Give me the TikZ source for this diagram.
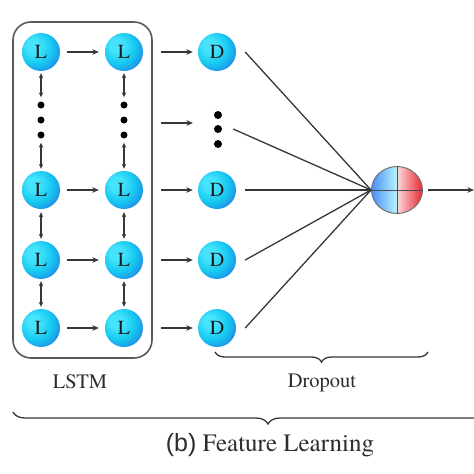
\documentclass[tikz,border=0pt]{standalone}
\usepackage{fontspec}
\setmainfont{texgyretermes-regular.otf}[BoldFont=texgyretermes-bold.otf]
\newfontfamily\sansb{Liberation Sans}
\usetikzlibrary{arrows.meta,decorations.pathreplacing,calc,shapes.geometric}
\definecolor{cyanH}{RGB}{70,228,252}
\definecolor{cyanA}{RGB}{22,200,240}
\definecolor{blueA}{RGB}{40,100,225}
\definecolor{lineC}{RGB}{55,55,55}
\definecolor{boxC}{RGB}{90,90,90}
\definecolor{txtC}{RGB}{45,45,45}
\definecolor{blueL}{RGB}{70,140,248}
\definecolor{cyanL}{RGB}{185,245,255}
\definecolor{pinkL}{RGB}{252,218,222}
\definecolor{redL}{RGB}{232,36,44}
\pgfdeclareradialshading{lball}{\pgfpoint{-12bp}{10bp}}{color(0bp)=(cyanH); color(8bp)=(cyanH); color(22bp)=(cyanA); color(40bp)=(blueA); color(60bp)=(blueA)}
\begin{document}
\begin{tikzpicture}[x=1pt,y=-1pt,
 ball/.style={circle, minimum size=38pt, inner sep=0pt, shading=lball, font=\fontsize{20}{20}\selectfont, text=black!90},
 arr/.style={-{Stealth[length=6.5pt,width=5.5pt]}, line width=1.3pt, draw=lineC},
 barr/.style={{Stealth[length=5pt,width=4.5pt]}-{Stealth[length=5pt,width=4.5pt]}, line width=1.2pt, draw=lineC},
 sdot/.style={circle, fill=black, inner sep=0pt, minimum size=7pt},
 bdot/.style={circle, fill=black, inner sep=0pt, minimum size=8pt},
 conn/.style={line width=1.3pt, draw=lineC},
 bracestyle/.style={decorate, decoration={brace,mirror,amplitude=#1}, line width=1.3pt, draw=lineC},
 lbl/.style={text=txtC, font=\fontsize{20.5}{20.5}\selectfont}
]
\useasboundingbox (0,0) rectangle (474,474);
% LSTM box
\node[draw=boxC, line width=1.6pt, rounded corners=18pt, minimum width=139pt, minimum height=336pt, inner sep=0pt] (box) at (82.5,190) {};
% nodes
\foreach \r/\y in {1/52,3/190,4/260,5/328}{
  \node[ball] (a\r) at (41,\y) {L};
  \node[ball] (b\r) at (124,\y) {L};
  \node[ball] (d\r) at (217,\y) {D};
}
\foreach \i/\y in {1/105,2/120,3/135}{
  \node[sdot] (ad\i) at (41,\y) {};
  \node[sdot] (bd\i) at (124,\y) {};
}
\foreach \i/\y in {1/115,2/129,3/144}{
  \node[bdot] (dd\i) at (218,\y) {};
}
\coordinate (m1) at (161,123);
\coordinate (m2) at (193,123);
% horizontal arrows
\foreach \r in {1,3,4,5}{
  \draw[arr, shorten <=7pt, shorten >=6pt] (a\r) -- (b\r);
  \draw[arr, shorten <=18pt, shorten >=5pt] (b\r) -- (d\r);
}
\draw[arr] (m1) -- (m2);
% vertical arrows
\foreach \c in {a,b}{
  \draw[barr, shorten <=2pt, shorten >=4pt] (\c1) -- (\c d1);
  \draw[barr, shorten <=4pt, shorten >=2pt] (\c d3) -- (\c3);
  \draw[barr, shorten <=3pt, shorten >=2pt] (\c3) -- (\c4);
  \draw[barr, shorten <=2pt, shorten >=2pt] (\c4) -- (\c5);
}
% combiner
\begin{scope}
\clip (397,190) ellipse [x radius=25.5pt, y radius=23.5pt];
\shade[left color=blueL, right color=cyanL] (371,165) rectangle (397,216);
\shade[left color=pinkL, right color=redL] (397,165) rectangle (423,216);
\end{scope}
\node[ellipse, minimum width=51pt, minimum height=47pt, inner sep=0pt, draw=gray!90!black, line width=1pt] (comb) at (397,190) {};
\draw[line width=1pt, draw=gray!60!black] (comb.north) -- (comb.south);
\draw[line width=1pt, draw=gray!60!black] (comb.west) -- (comb.east);
% connectors to combiner
\foreach \r in {1,3,4,5}{
  \draw[conn] ([xshift=9pt]d\r.east) -- (comb.west);
}
\draw[conn] ([xshift=11pt]dd2.east) -- (comb.west);
\coordinate (out) at (474,190);
\draw[arr, shorten <=5pt] (comb.east) -- (out);
% braces
\coordinate (br1) at (215,352);
\coordinate (br2) at (428,352);
\draw[bracestyle=10pt] (br1) -- (br2);
\coordinate (bb1) at (13,412);
\coordinate (bb2) at (523,412);
\draw[bracestyle=12pt] (bb1) -- (bb2);
% labels
\node[lbl] (lstm) at (80,382) {LSTM};
\node[lbl] (drop) at (322,383) {Dropout};
\node[text=txtC, font=\fontsize{25}{25}\selectfont] (cap) at (270,445) {{\sansb (b)} Feature Learning};
\end{tikzpicture}
\end{document}
